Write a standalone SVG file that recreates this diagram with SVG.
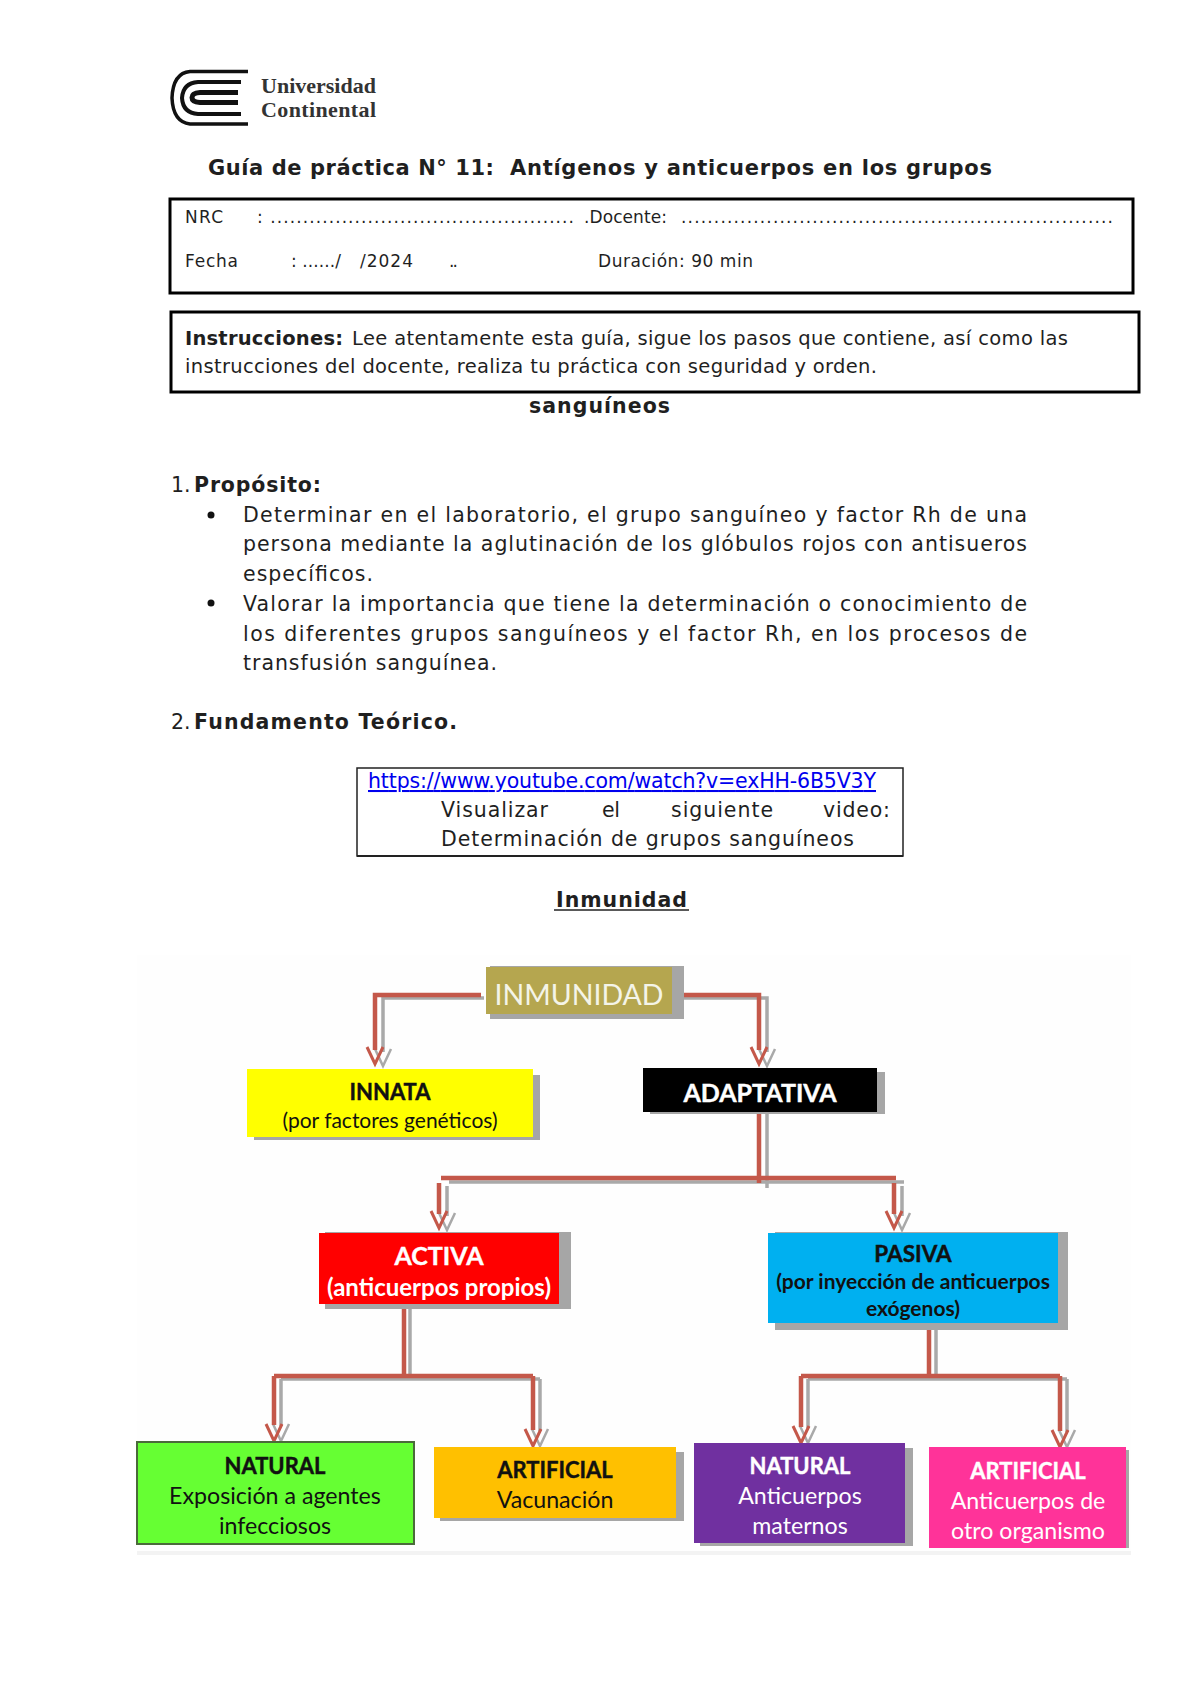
<svg xmlns="http://www.w3.org/2000/svg" width="1200" height="1696" viewBox="0 0 1200 1696">
<style>
.t{font-family:"DejaVu Sans",Verdana,sans-serif;font-size:19.5px;fill:#1f1f1f}
.s{font-size:17px}
.l{font-size:20.5px}
.ti{font-size:21px}
.b{font-weight:bold}
.d{font-family:Lato,"Open Sans",sans-serif;text-anchor:middle}
.h{font-weight:bold;font-size:22px;stroke-width:.4px}
.m{font-size:23.2px}
.w{fill:#fff;stroke:#fff}
.k{fill:#111;stroke:#111}
.m.w,.m.k{stroke-width:0}
.box{fill:none;stroke:#000;stroke-width:3}
.sh{fill:#a6a6a6}
.cr{fill:none;stroke:#c4584a;stroke-width:4.5}
.cg{fill:none;stroke:#a9a9a9;stroke-width:3.5}
.ar{fill:none;stroke:#c4584a;stroke-width:3}
.ag{fill:none;stroke:#a9a9a9;stroke-width:2.5}
</style>
<defs>
<path id="arrow" d="M-8 -17L0 0L8 -17"/>
</defs>
<rect width="1200" height="1696" fill="#fff"/>
<g id="logo">
<path d="M248 71.5H190Q173 73 172 98Q173 122 190 124H248" fill="none" stroke="#111" stroke-width="3.5"/>
<path d="M241 82H198Q183 83 182 98Q183 113 198 114H241" fill="none" stroke="#111" stroke-width="4"/>
<path d="M238 92.5H200Q192 93 192 97.5Q192 102 200 102.500H238" fill="none" stroke="#111" stroke-width="5"/>
<text x="261" y="93" font-family="Liberation Serif,serif" font-weight="bold" font-size="22" fill="#333" textLength="115">Universidad</text>
<text x="261" y="117" font-family="Liberation Serif,serif" font-weight="bold" font-size="22" fill="#333" textLength="115">Continental</text>
</g>
<g id="encabezado">
<text class="t b ti" x="208" y="175" textLength="286">Guía de práctica N° 11:</text>
<text class="t b ti" x="510" y="175" textLength="482">Antígenos y anticuerpos en los grupos</text>
<rect class="box" x="170" y="199" width="963" height="94"/>
<text class="t s" x="185" y="223" textLength="38">NRC</text>
<text class="t s" x="257" y="223" textLength="317">: ...............................................</text>
<text class="t s" x="584" y="223" textLength="83">.Docente:</text>
<text class="t s" x="681" y="223" textLength="432">..................................................................</text>
<text class="t s" x="185" y="267" textLength="53">Fecha</text>
<text class="t s" x="291" y="267" textLength="50">: ....../</text>
<text class="t s" x="360" y="267" textLength="53">/2024</text>
<text class="t s" x="449" y="267" textLength="9">..</text>
<text class="t s" x="598" y="267" textLength="155">Duración: 90 min</text>
<rect class="box" x="171" y="312" width="968" height="80"/>
<text class="t b" x="185" y="345" textLength="158">Instrucciones:</text>
<text class="t" x="352" y="345" textLength="716">Lee atentamente esta guía, sigue los pasos que contiene, así como las</text>
<text class="t" x="185" y="373" textLength="692">instrucciones del docente, realiza tu práctica con seguridad y orden.</text>
<text class="t b l" x="529" y="413" textLength="141">sanguíneos</text>
</g>
<g id="texto">
<text class="t l" x="171" y="492">1.</text>
<text class="t b l" x="194" y="492" textLength="127">Propósito:</text>
<circle cx="211" cy="515" r="3.500" fill="#111"/>
<text class="t l" x="243" y="522" textLength="784">Determinar en el laboratorio, el grupo sanguíneo y factor Rh de una</text>
<text class="t l" x="243" y="551" textLength="784">persona mediante la aglutinación de los glóbulos rojos con antisueros</text>
<text class="t l" x="243" y="581" textLength="130">específicos.</text>
<circle cx="211" cy="603" r="3.500" fill="#111"/>
<text class="t l" x="243" y="611" textLength="784">Valorar la importancia que tiene la determinación o conocimiento de</text>
<text class="t l" x="243" y="641" textLength="784">los diferentes grupos sanguíneos y el factor Rh, en los procesos de</text>
<text class="t l" x="243" y="670" textLength="254">transfusión sanguínea.</text>
<text class="t l" x="171" y="729">2.</text>
<text class="t b l" x="194" y="729" textLength="263">Fundamento Teórico.</text>
<rect x="357" y="768" width="546" height="88" fill="none" stroke="#222" stroke-width="1.500"/>
<path d="M357 856H903" stroke="#222" stroke-width="2"/>
<text class="t l" x="368" y="788" textLength="508" style="fill:#0000ee" text-decoration="underline">https://www.youtube.com/watch?v=exHH-6B5V3Y</text>
<text class="t l" x="441" y="817" textLength="107">Visualizar</text>
<text class="t l" x="602" y="817" textLength="18">el</text>
<text class="t l" x="671" y="817" textLength="102">siguiente</text>
<text class="t l" x="823" y="817" textLength="67">video:</text>
<text class="t l" x="441" y="846" textLength="413">Determinación de grupos sanguíneos</text>
<text class="t b l" x="556" y="907" textLength="131">Inmunidad</text>
<path d="M554 910H689" stroke="#222" stroke-width="1.500"/>
</g>
<g id="fondo-esquema">
<rect x="137" y="955" width="994" height="600" fill="#fefefe"/>
<rect x="137" y="1551" width="994" height="4" fill="#f3f3f3"/>
</g>
<g id="conectores">
<g id="sombras">
<path class="cg" d="M484 998H383V1052M680 998H767V1052M767 1112V1188M449 1182H904M447 1186V1216M902 1186V1216M410 1303V1379M281 1379H540M281 1379V1426M540 1379V1431M936 1327V1379M808 1379H1067M808 1379V1428M1067 1379V1432"/>
<use href="#arrow" class="ag" x="383" y="1066"/><use href="#arrow" class="ag" x="767" y="1066"/><use href="#arrow" class="ag" x="447" y="1230"/><use href="#arrow" class="ag" x="902" y="1230"/><use href="#arrow" class="ag" x="281" y="1441"/><use href="#arrow" class="ag" x="540" y="1446"/><use href="#arrow" class="ag" x="808" y="1443"/><use href="#arrow" class="ag" x="1067" y="1447"/>
</g>
<g id="lineas">
<path class="cr" d="M481 995H375V1050M677 995H759V1050M759 1112V1183M441 1178H896M439 1183V1214M894 1183V1214M404 1303V1376M274 1376H533M274 1376V1425M533 1376V1430M929 1327V1376M801 1376H1060M801 1376V1427M1060 1376V1431"/>
<use href="#arrow" class="ar" x="375" y="1064"/><use href="#arrow" class="ar" x="759" y="1064"/><use href="#arrow" class="ar" x="439" y="1228"/><use href="#arrow" class="ar" x="894" y="1228"/><use href="#arrow" class="ar" x="274" y="1441"/><use href="#arrow" class="ar" x="533" y="1446"/><use href="#arrow" class="ar" x="801" y="1443"/><use href="#arrow" class="ar" x="1060" y="1447"/>
</g>
</g>
<g id="inmunidad">
<rect class="sh" x="490" y="966" width="194" height="53"/><rect x="486" y="967" width="186" height="47" fill="#b5a64f"/>
<text class="d" x="579" y="1005" font-size="28.500" fill="#f4f4e8">INMUNIDAD</text>
</g>
<g id="innata">
<rect class="sh" x="254" y="1075" width="286" height="65"/><rect x="247" y="1069" width="286" height="68" fill="#ffff00"/>
<text class="d h k" x="390" y="1100">INNATA</text>
<text class="d" x="390" y="1128" font-size="21" fill="#111">(por factores genéticos)</text>
</g>
<g id="adaptativa">
<rect class="sh" x="650" y="1072" width="235" height="42"/><rect x="643" y="1068" width="234" height="44" fill="#000"/>
<text class="d h w" x="760" y="1102" style="font-size:25px">ADAPTATIVA</text>
</g>
<g id="activa">
<rect class="sh" x="325" y="1232" width="246" height="77"/><rect x="319" y="1233" width="240" height="71" fill="#ff0000"/>
<text class="d h w" x="439" y="1265" style="font-size:25px">ACTIVA</text>
<text class="d" x="439" y="1296" font-weight="bold" font-size="24" fill="#fff">(anticuerpos propios)</text>
</g>
<g id="pasiva">
<rect class="sh" x="775" y="1232" width="293" height="98"/><rect x="768" y="1233" width="290" height="90" fill="#00b0f0"/>
<text class="d h k" x="913" y="1262" style="font-size:22.500px">PASIVA</text>
<text class="d" x="913" y="1289" font-weight="bold" font-size="21" fill="#111">(por inyección de anticuerpos</text>
<text class="d" x="913" y="1316" font-weight="bold" font-size="21" fill="#111">exógenos)</text>
</g>
<g id="natural-1">
<rect x="137" y="1442" width="277" height="102" fill="#66ff33" stroke="#4a6b3a" stroke-width="2"/>
<text class="d h k" x="275" y="1474">NATURAL</text>
<text class="d m k" x="275" y="1504">Exposición a agentes</text>
<text class="d m k" x="275" y="1534">infecciosos</text>
</g>
<g id="artificial-1">
<rect class="sh" x="440" y="1452" width="244" height="69"/><rect x="434" y="1447" width="242" height="71" fill="#ffc000"/>
<text class="d h k" x="555" y="1478">ARTIFICIAL</text>
<text class="d m k" x="555" y="1508">Vacunación</text>
</g>
<g id="natural-2">
<rect class="sh" x="700" y="1448" width="213" height="98"/><rect x="694" y="1443" width="211" height="100" fill="#7030a0"/>
<text class="d h w" x="800" y="1474">NATURAL</text>
<text class="d m w" x="800" y="1504">Anticuerpos</text>
<text class="d m w" x="800" y="1534">maternos</text>
</g>
<g id="artificial-2">
<rect class="sh" x="934" y="1450" width="195" height="98"/><rect x="929" y="1447" width="197" height="101" fill="#ff3399"/>
<text class="d h w" x="1028" y="1479">ARTIFICIAL</text>
<text class="d m w" x="1028" y="1509">Anticuerpos de</text>
<text class="d m w" x="1028" y="1539">otro organismo</text>
</g>
</svg>
